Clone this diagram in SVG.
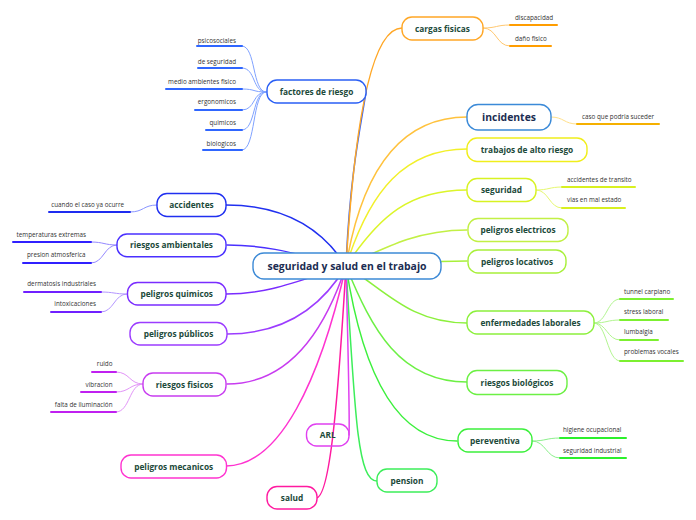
<svg xmlns="http://www.w3.org/2000/svg" width="696" height="520" viewBox="0 0 696 520">
<style>
.bg{fill:#ffffff}
.node{fill:#ffffff;stroke-width:1.4}
.open{fill:none}
.lbl{font-family:"Open Sans","Noto Sans","Liberation Sans",sans-serif;font-weight:700;font-size:8.3px;fill:#1c4a3a;text-anchor:middle}
.big{font-size:10.4px;fill:#1b2d52}
.sub{font-family:"Open Sans","Noto Sans","Liberation Sans",sans-serif;font-size:6.3px;fill:#333333}
.end{text-anchor:end}
.c{fill:none;stroke-width:1.5;stroke-linecap:round}
.sc{fill:none;stroke-width:1;stroke-linecap:round}
.ul{fill:none;stroke-width:2;stroke-linecap:round}
</style>
<rect class="bg" x="0" y="0" width="696" height="520"/>
<g id="connectors">
  <path class="c" stroke="#2f62ff" d="M346,266 C350,170 362,120 366,92"/>
  <path class="c" stroke="#ffa726" d="M346,266 Q360,28 402,28"/>
  <path class="c" stroke="#ffc23d" d="M346,266 C362,170 400,117 467,117"/>
  <path class="c" stroke="#f2f02a" d="M346,266 C370,190 405,149 467,149"/>
  <path class="c" stroke="#dcf52a" d="M346,266 C380,215 410,190 467,190"/>
  <path class="c" stroke="#c2f045" d="M346,266 C390,245 420,230 467,230"/>
  <path class="c" stroke="#a8f03a" d="M346,266 C400,264 430,261 467,261"/>
  <path class="c" stroke="#8cf03c" d="M346,266 C385,290 410,323 467,323"/>
  <path class="c" stroke="#6cf044" d="M346,266 C372,330 400,382 467,382"/>
  <path class="c" stroke="#3cf03c" d="M346,266 C362,370 395,441 457,441"/>
  <path class="c" stroke="#3cee5a" d="M346,266 C355,420 358,481 377,481"/>
  <path class="c" stroke="#e040f0" d="M346,266 C348,350 350,420 349,435"/>
  <path class="c" stroke="#ff1aa0" d="M346,266 C338,400 330,498 316,498"/>
  <path class="c" stroke="#ff33d0" d="M346,266 C320,380 280,466 226,466"/>
  <path class="c" stroke="#c83cf0" d="M346,266 C325,330 290,384 227,384"/>
  <path class="c" stroke="#9c3cff" d="M346,266 C320,310 280,334 227,334"/>
  <path class="c" stroke="#7a2cff" d="M346,266 C300,280 270,294 226,294"/>
  <path class="c" stroke="#4a30ff" d="M346,266 C300,255 270,245 227,245"/>
  <path class="c" stroke="#2030f0" d="M346,266 C320,225 280,205 226,205"/>

  <g stroke="#7fa2ff">
    <path class="sc" d="M266,92 C252,92 256,46 242,46"/>
    <path class="sc" d="M266,92 C252,92 256,68 242,68"/>
    <path class="sc" d="M266,92 C252,92 256,89 242,89"/>
    <path class="sc" d="M266,92 C252,92 256,110 242,110"/>
    <path class="sc" d="M266,92 C252,92 256,130 242,130"/>
    <path class="sc" d="M266,92 C252,92 256,150 242,150"/>
  </g>
  <g stroke="#ffc870">
    <path class="sc" d="M483,28 C497,28 496,25 510,25"/>
    <path class="sc" d="M483,28 C497,28 496,46 510,46"/>
  </g>
  <path class="sc" stroke="#ffe08a" d="M551,117 C564,117 564,124 577,124"/>
  <g stroke="#e6f870">
    <path class="sc" d="M536,190 C549,190 549,187 562,187"/>
    <path class="sc" d="M536,190 C549,190 549,208 562,208"/>
  </g>
  <g stroke="#b2f590">
    <path class="sc" d="M594,323 C607,323 607,299 620,299"/>
    <path class="sc" d="M594,323 C607,323 607,320 620,320"/>
    <path class="sc" d="M594,323 C607,323 607,340 620,340"/>
    <path class="sc" d="M594,323 C607,323 607,361 620,361"/>
  </g>
  <g stroke="#8cf08c">
    <path class="sc" d="M532,441 C546,441 546,438 560,438"/>
    <path class="sc" d="M532,441 C546,441 546,458 560,458"/>
  </g>
  <path class="sc" stroke="#8894ff" d="M157,205 C143,205 144,212 130,212"/>
  <g stroke="#9488ff">
    <path class="sc" d="M117,245 C104,245 104,242 91,242"/>
    <path class="sc" d="M117,245 C104,245 104,263 91,263"/>
  </g>
  <g stroke="#b496ff">
    <path class="sc" d="M127,294 C114,294 114,292 101,292"/>
    <path class="sc" d="M127,294 C114,294 114,312 101,312"/>
  </g>
  <g stroke="#e294f8">
    <path class="sc" d="M143,384 C129,384 130,372 116,372"/>
    <path class="sc" d="M143,384 C129,384 130,392 116,392"/>
    <path class="sc" d="M143,384 C129,384 130,412 116,412"/>
  </g>
</g>

<g id="central">
  <rect class="node" stroke="#3d8ad6" x="253" y="253" width="188" height="26" rx="11"/>
  <text class="lbl big" x="347" y="269.8">seguridad y salud en el trabajo</text>
</g>

<g id="factores-de-riesgo">
  <rect class="node" stroke="#2a5ff5" x="267" y="80" width="99" height="23" rx="10"/>
  <text class="lbl" x="316.5" y="94.5">factores de riesgo</text>
  <g stroke="#2f66ff">
    <line class="ul" x1="197" y1="46" x2="242" y2="46"/>
    <line class="ul" x1="198" y1="68" x2="242" y2="68"/>
    <line class="ul" x1="166" y1="89" x2="242" y2="89"/>
    <line class="ul" x1="195" y1="110" x2="242" y2="110"/>
    <line class="ul" x1="206" y1="130" x2="242" y2="130"/>
    <line class="ul" x1="203" y1="150" x2="242" y2="150"/>
  </g>
  <text class="sub end" x="236" y="43.3">psicosociales</text>
  <text class="sub end" x="236" y="63.5">de seguridad</text>
  <text class="sub end" x="236" y="84">medio ambientes fisico</text>
  <text class="sub end" x="236" y="104">ergonomicos</text>
  <text class="sub end" x="236" y="124.5">quimicos</text>
  <text class="sub end" x="236" y="145.5">biologicos</text>
</g>

<g id="cargas-fisicas">
  <rect class="node" stroke="#ffa726" x="402" y="17" width="81" height="23" rx="10"/>
  <text class="lbl" x="442.5" y="31.5">cargas fisicas</text>
  <g stroke="#ff9d00">
    <line class="ul" x1="510" y1="25" x2="557" y2="25"/>
    <line class="ul" x1="510" y1="46" x2="551" y2="46"/>
  </g>
  <text class="sub" x="515" y="20">discapacidad</text>
  <text class="sub" x="515" y="40.6">daño fisico</text>
</g>

<g id="incidentes">
  <rect class="node" stroke="#3b8ad8" x="467" y="104.5" width="84" height="25.5" rx="11"/>
  <text class="lbl big" x="509" y="121">incidentes</text>
  <line class="ul" stroke="#f5b000" x1="577" y1="124" x2="659" y2="124"/>
  <text class="sub" x="582" y="119">caso que podria suceder</text>
</g>

<g id="trabajos-de-alto-riesgo">
  <rect class="node" stroke="#f0ee1c" x="467" y="138" width="120" height="23.5" rx="10"/>
  <text class="lbl" x="527" y="152.8">trabajos de alto riesgo</text>
</g>

<g id="seguridad">
  <rect class="node" stroke="#d8f222" x="467" y="178.5" width="69" height="23" rx="10"/>
  <text class="lbl" x="501.5" y="193">seguridad</text>
  <g stroke="#d8f020">
    <line class="ul" x1="562" y1="187" x2="635" y2="187"/>
    <line class="ul" x1="562" y1="208" x2="625" y2="208"/>
  </g>
  <text class="sub" x="567" y="182.3">accidentes de transito</text>
  <text class="sub" x="567" y="201.6">vias en mal estado</text>
</g>

<g id="peligros-electricos">
  <rect class="node" stroke="#c2f045" x="468" y="218.5" width="100" height="23" rx="10"/>
  <text class="lbl" x="518" y="233">peligros electricos</text>
</g>

<g id="peligros-locativos">
  <rect class="node" stroke="#a8f03a" x="468" y="250" width="98" height="23" rx="10"/>
  <text class="lbl" x="517" y="264.5">peligros locativos</text>
</g>

<g id="enfermedades-laborales">
  <rect class="node" stroke="#8cf03c" x="467" y="311" width="127" height="23" rx="10"/>
  <text class="lbl" x="530.5" y="325.5">enfermedades laborales</text>
  <g stroke="#7cf030">
    <line class="ul" x1="620" y1="299" x2="673" y2="299"/>
    <line class="ul" x1="620" y1="320" x2="668" y2="320"/>
    <line class="ul" x1="620" y1="340" x2="658" y2="340"/>
    <line class="ul" x1="620" y1="361" x2="683" y2="361"/>
  </g>
  <text class="sub" x="624" y="294">tunnel carpiano</text>
  <text class="sub" x="624" y="314">stress laboral</text>
  <text class="sub" x="624" y="334.3">lumbalgia</text>
  <text class="sub" x="624" y="354.3">problemas vocales</text>
</g>

<g id="riesgos-biologicos">
  <rect class="node" stroke="#6cf044" x="467" y="370.5" width="100" height="24" rx="10"/>
  <text class="lbl" x="517" y="385.5">riesgos biológicos</text>
</g>

<g id="pereventiva">
  <rect class="node" stroke="#3cf03c" x="458" y="429" width="74" height="23" rx="10"/>
  <text class="lbl" x="495" y="443.5">pereventiva</text>
  <g stroke="#2cf02c">
    <line class="ul" x1="560" y1="438" x2="626" y2="438"/>
    <line class="ul" x1="560" y1="458" x2="626" y2="458"/>
  </g>
  <text class="sub" x="563" y="431.5">higiene ocupacional</text>
  <text class="sub" x="563" y="453">seguridad industrial</text>
</g>

<g id="pension">
  <rect class="node" stroke="#3cee5a" x="377" y="469" width="60" height="23" rx="10"/>
  <text class="lbl" x="407" y="483.5">pension</text>
</g>

<g id="arl">
  <rect class="node open" stroke="#e040f0" x="306.5" y="424" width="42.5" height="22" rx="10"/>
  <text class="lbl" x="327.7" y="438">ARL</text>
</g>

<g id="salud">
  <rect class="node" stroke="#ff1aa0" x="267" y="486.5" width="50" height="22.5" rx="10"/>
  <text class="lbl" x="292" y="500.8">salud</text>
</g>

<g id="peligros-mecanicos">
  <rect class="node" stroke="#ff33d0" x="121" y="455" width="105.5" height="23" rx="10"/>
  <text class="lbl" x="173.7" y="469.5">peligros mecanicos</text>
</g>

<g id="riesgos-fisicos">
  <rect class="node" stroke="#c83cf0" x="143" y="373" width="83" height="23" rx="10"/>
  <text class="lbl" x="184.5" y="387.5">riesgos fisicos</text>
  <g stroke="#c020f0">
    <line class="ul" x1="92" y1="372" x2="116" y2="372"/>
    <line class="ul" x1="81" y1="392" x2="116" y2="392"/>
    <line class="ul" x1="51" y1="412" x2="116" y2="412"/>
  </g>
  <text class="sub end" x="112.5" y="366.3">ruido</text>
  <text class="sub end" x="112.5" y="387.3">vibracion</text>
  <text class="sub end" x="112.5" y="406.6">falta de iluminación</text>
</g>

<g id="peligros-publicos">
  <rect class="node" stroke="#9c3cff" x="130" y="322.5" width="97" height="22.5" rx="10"/>
  <text class="lbl" x="178.5" y="336.8">peligros públicos</text>
</g>

<g id="peligros-quimicos">
  <rect class="node" stroke="#7a2cff" x="127.5" y="282.5" width="98.5" height="22.5" rx="10"/>
  <text class="lbl" x="176.7" y="296.8">peligros quimicos</text>
  <g stroke="#7020ff">
    <line class="ul" x1="24" y1="292" x2="101" y2="292"/>
    <line class="ul" x1="51" y1="312" x2="101" y2="312"/>
  </g>
  <text class="sub end" x="96" y="286.3">dermatosis industriales</text>
  <text class="sub end" x="96" y="306.3">intoxicaciones</text>
</g>

<g id="riesgos-ambientales">
  <rect class="node" stroke="#4a30ff" x="117" y="234" width="109" height="22.7" rx="10"/>
  <text class="lbl" x="171.5" y="248.4">riesgos ambientales</text>
  <g stroke="#3020ff">
    <line class="ul" x1="13" y1="242" x2="91" y2="242"/>
    <line class="ul" x1="23" y1="263" x2="91" y2="263"/>
  </g>
  <text class="sub end" x="86" y="237.3">temperaturas extremas</text>
  <text class="sub end" x="85.5" y="257.3">presion atmosferica</text>
</g>

<g id="accidentes">
  <rect class="node" stroke="#2030f0" x="157" y="193.5" width="69" height="23" rx="10"/>
  <text class="lbl" x="191.5" y="208">accidentes</text>
  <line class="ul" stroke="#1e2cf0" x1="49" y1="212" x2="130" y2="212"/>
  <text class="sub end" x="124" y="207.3">cuando el caso ya ocurre</text>
</g>
</svg>
